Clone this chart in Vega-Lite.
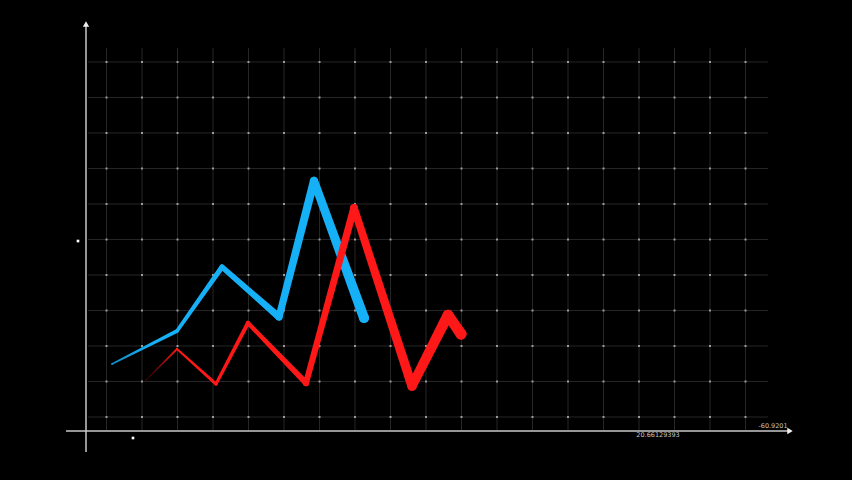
{
  "$schema": "https://vega.github.io/schema/vega-lite/v6.json",
  "width": 852,
  "height": 480,
  "autosize": {"type": "fit", "contains": "padding"},
  "padding": 0,
  "background": "#000000",
  "config": {"view": {"stroke": null}},
  "datasets": {
    "gx": [{"g": 1}, {"g": 2}, {"g": 3}, {"g": 4}, {"g": 5}, {"g": 6}, {"g": 7}, {"g": 8}, {"g": 9}, {"g": 10},
           {"g": 11}, {"g": 12}, {"g": 13}, {"g": 14}, {"g": 15}, {"g": 16}, {"g": 17}, {"g": 18}, {"g": 19}],
    "gy": [{"g": 1}, {"g": 2}, {"g": 3}, {"g": 4}, {"g": 5}, {"g": 6}, {"g": 7}, {"g": 8}, {"g": 9}, {"g": 10}, {"g": 11}],
    "axes": [
      {"x": 0.4225, "y": 0.014, "x2": 0.4225, "y2": 12.07},
      {"x": -0.141, "y": 0.605, "x2": 20.254, "y2": 0.605}
    ],
    "arrows": [
      {"x": 0.4225, "y": 12.07, "dir": "up"},
      {"x": 20.254, "y": 0.605, "dir": "right"}
    ],
    "marks": [{"x": 0.197, "y": 5.957}, {"x": 1.746, "y": 0.408}],
    "labels": [
      {"x": 19.775, "y": 0.746, "t": "-60.9201"},
      {"x": 16.535, "y": 0.493, "t": "20.66129393"}
    ],
    "blue": [
      {"x": 1.155, "y": 2.492},
      {"x": 2.986, "y": 3.422},
      {"x": 4.254, "y": 5.225},
      {"x": 5.859, "y": 3.816},
      {"x": 6.845, "y": 7.647},
      {"x": 8.254, "y": 3.788}
    ],
    "red": [
      {"x": 2.113, "y": 2.042},
      {"x": 2.986, "y": 2.915},
      {"x": 4.085, "y": 1.929},
      {"x": 4.986, "y": 3.647},
      {"x": 6.62, "y": 1.957},
      {"x": 7.972, "y": 6.887},
      {"x": 9.606, "y": 1.873},
      {"x": 10.62, "y": 3.873},
      {"x": 10.986, "y": 3.338}
    ]
  },
  "resolve": {"scale": {"size": "independent"}},
  "layer": [
    {
      "data": {"name": "gx"},
      "mark": {"type": "rule", "color": "#262626", "strokeWidth": 1},
      "encoding": {
        "x": {"field": "g", "type": "quantitative", "scale": {"domain": [-2, 22], "nice": false, "zero": false}, "axis": null},
        "y": {"datum": 0.633, "type": "quantitative", "scale": {"domain": [-0.775, 12.746], "nice": false, "zero": false}, "axis": null},
        "y2": {"datum": 11.394}
      }
    },
    {
      "data": {"name": "gy"},
      "mark": {"type": "rule", "color": "#262626", "strokeWidth": 1},
      "encoding": {
        "y": {"field": "g", "type": "quantitative", "scale": {"domain": [-0.775, 12.746], "nice": false, "zero": false}, "axis": null},
        "x": {"datum": 0.479, "type": "quantitative", "scale": {"domain": [-2, 22], "nice": false, "zero": false}, "axis": null},
        "x2": {"datum": 19.634}
      }
    },
    {
      "data": {"name": "gy"},
      "mark": {"type": "rule", "color": "#9a9a9a", "strokeWidth": 2, "strokeDash": [2, 33.5]},
      "encoding": {
        "y": {"field": "g", "type": "quantitative", "scale": {"domain": [-0.775, 12.746], "nice": false, "zero": false}, "axis": null},
        "x": {"datum": 0.972, "type": "quantitative", "scale": {"domain": [-2, 22], "nice": false, "zero": false}, "axis": null},
        "x2": {"datum": 19.03}
      }
    },
    {
      "data": {"name": "axes"},
      "mark": {"type": "rule", "color": "#c8c8c8", "strokeWidth": 1.5},
      "encoding": {
        "x": {"field": "x", "type": "quantitative", "scale": {"domain": [-2, 22], "nice": false, "zero": false}, "axis": null},
        "y": {"field": "y", "type": "quantitative", "scale": {"domain": [-0.775, 12.746], "nice": false, "zero": false}, "axis": null},
        "x2": {"field": "x2"},
        "y2": {"field": "y2"}
      }
    },
    {
      "data": {"name": "arrows"},
      "mark": {"type": "point", "filled": true, "color": "#f0f0f0", "size": 40, "opacity": 1},
      "encoding": {
        "x": {"field": "x", "type": "quantitative", "scale": {"domain": [-2, 22], "nice": false, "zero": false}, "axis": null},
        "y": {"field": "y", "type": "quantitative", "scale": {"domain": [-0.775, 12.746], "nice": false, "zero": false}, "axis": null},
        "shape": {"field": "dir", "type": "nominal", "scale": {"domain": ["up", "right"], "range": ["triangle-up", "triangle-right"]}, "legend": null}
      }
    },
    {
      "data": {"name": "marks"},
      "mark": {"type": "square", "filled": true, "color": "#ffffff", "size": 7, "opacity": 1},
      "encoding": {
        "x": {"field": "x", "type": "quantitative", "scale": {"domain": [-2, 22], "nice": false, "zero": false}, "axis": null},
        "y": {"field": "y", "type": "quantitative", "scale": {"domain": [-0.775, 12.746], "nice": false, "zero": false}, "axis": null}
      }
    },
    {
      "data": {"name": "labels"},
      "mark": {"type": "text", "fill": "#c4c4c4", "fontSize": 6.5, "font": "DejaVu Sans", "align": "center", "baseline": "middle"},
      "encoding": {
        "x": {"field": "x", "type": "quantitative", "scale": {"domain": [-2, 22], "nice": false, "zero": false}, "axis": null},
        "y": {"field": "y", "type": "quantitative", "scale": {"domain": [-0.775, 12.746], "nice": false, "zero": false}, "axis": null},
        "text": {"field": "t", "type": "nominal"}
      }
    },
    {
      "data": {"name": "blue"},
      "mark": {
        "type": "trail",
        "color": {"gradient": "linear", "x1": 0, "x2": 1, "y1": 0, "y2": 0,
                  "stops": [{"offset": 0, "color": "#1289c4"}, {"offset": 0.15, "color": "#16b0f7"}, {"offset": 1, "color": "#16b0f7"}]}
      },
      "encoding": {
        "x": {"field": "x", "type": "quantitative", "scale": {"domain": [-2, 22], "nice": false, "zero": false}, "axis": null},
        "y": {"field": "y", "type": "quantitative", "scale": {"domain": [-0.775, 12.746], "nice": false, "zero": false}, "axis": null},
        "order": {"field": "x", "type": "quantitative"},
        "size": {"field": "x", "type": "quantitative", "scale": {"domain": [1.155, 8.254], "range": [1.5, 10], "zero": false}, "legend": null}
      }
    },
    {
      "data": {"name": "blue"},
      "mark": {"type": "circle", "color": "#16b0f7", "opacity": 1},
      "encoding": {
        "x": {"field": "x", "type": "quantitative", "scale": {"domain": [-2, 22], "nice": false, "zero": false}, "axis": null},
        "y": {"field": "y", "type": "quantitative", "scale": {"domain": [-0.775, 12.746], "nice": false, "zero": false}, "axis": null},
        "size": {"field": "x", "type": "quantitative", "scale": {"type": "pow", "exponent": 2, "domain": [1.155, 8.254], "range": [2.25, 100], "zero": false}, "legend": null}
      }
    },
    {
      "data": {"name": "red"},
      "mark": {
        "type": "trail",
        "color": {"gradient": "linear", "x1": 0, "x2": 1, "y1": 0, "y2": 0,
                  "stops": [{"offset": 0, "color": "#3a0000"}, {"offset": 0.1, "color": "#ff1818"}, {"offset": 1, "color": "#ff1818"}]}
      },
      "encoding": {
        "x": {"field": "x", "type": "quantitative", "scale": {"domain": [-2, 22], "nice": false, "zero": false}, "axis": null},
        "y": {"field": "y", "type": "quantitative", "scale": {"domain": [-0.775, 12.746], "nice": false, "zero": false}, "axis": null},
        "order": {"field": "x", "type": "quantitative"},
        "size": {"field": "x", "type": "quantitative", "scale": {"domain": [2.113, 10.986], "range": [0.8, 11], "zero": false}, "legend": null}
      }
    },
    {
      "data": {"name": "red"},
      "mark": {"type": "circle", "color": "#ff1818", "opacity": 1},
      "encoding": {
        "x": {"field": "x", "type": "quantitative", "scale": {"domain": [-2, 22], "nice": false, "zero": false}, "axis": null},
        "y": {"field": "y", "type": "quantitative", "scale": {"domain": [-0.775, 12.746], "nice": false, "zero": false}, "axis": null},
        "size": {"field": "x", "type": "quantitative", "scale": {"type": "pow", "exponent": 2, "domain": [2.113, 10.986], "range": [0.64, 121], "zero": false}, "legend": null}
      }
    }
  ]
}
